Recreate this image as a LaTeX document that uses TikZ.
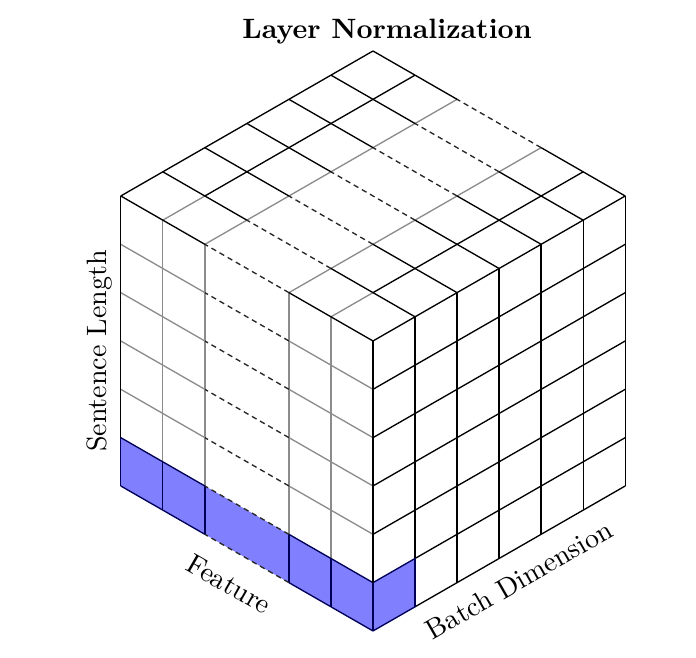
\documentclass[tikz,border=0pt]{standalone}
\usepackage{fontspec}
\usepackage{tikz}
\usetikzlibrary{positioning}
\usepackage{amsmath,amssymb}

\begin{document}
\begin{tikzpicture}[x={(-0.554cm,0.3185cm)}, y={(0cm,0.637cm)}, z={(0.554cm,0.3185cm)},
	every node/.style={font=\fontsize{10.5}{12.6}\selectfont}]
	\tikzstyle{edge_line}=[draw=black, line width=0.5pt]
	\tikzstyle{grey_line}=[draw=black!45, line width=0.5pt]
	\tikzstyle{blue_line}=[draw=blue!35!black, line width=0.5pt]
	\tikzstyle{dots_line}=[draw=black!85, line width=0.5pt, dash pattern=on 2pt off 1.5pt]
	\tikzstyle{blue_cell}=[fill=blue!50]
	
	\useasboundingbox (-4.916cm,-0.356cm) rectangle (4.257cm,8.316cm);
	
	% highlighted row
	\fill[blue_cell] (0,0,0) -- (6,0,0) -- (6,1,0) -- (0,1,0) -- cycle;
	\fill[blue_cell] (0,0,0) -- (0,0,1) -- (0,1,1) -- (0,1,0) -- cycle;
	
	% left face: feature x sentence length
	\draw[grey_line] (1,1,0) -- (1,6,0);
	\draw[grey_line] (2,1,0) -- (2,6,0);
	\draw[grey_line] (4,1,0) -- (4,6,0);
	\draw[grey_line] (5,1,0) -- (5,6,0);
	\draw[blue_line] (1,0,0) -- (1,1,0);
	\draw[blue_line] (2,0,0) -- (2,1,0);
	\draw[blue_line] (4,0,0) -- (4,1,0);
	\draw[blue_line] (5,0,0) -- (5,1,0);
	
	\draw[grey_line] (0,2,0) -- (2,2,0);  \draw[dots_line] (2,2,0) -- (4,2,0);  \draw[grey_line] (4,2,0) -- (6,2,0);
	\draw[grey_line] (0,3,0) -- (2,3,0);  \draw[dots_line] (2,3,0) -- (4,3,0);  \draw[grey_line] (4,3,0) -- (6,3,0);
	\draw[grey_line] (0,4,0) -- (2,4,0);  \draw[dots_line] (2,4,0) -- (4,4,0);  \draw[grey_line] (4,4,0) -- (6,4,0);
	\draw[grey_line] (0,5,0) -- (2,5,0);  \draw[dots_line] (2,5,0) -- (4,5,0);  \draw[grey_line] (4,5,0) -- (6,5,0);
	\draw[blue_line] (0,1,0) -- (2,1,0);  \draw[dots_line] (2,1,0) -- (4,1,0);  \draw[blue_line] (4,1,0) -- (6,1,0);
	\draw[blue_line] (0,0,0) -- (2,0,0);  \draw[dots_line] (2,0,0) -- (4,0,0);  \draw[blue_line] (4,0,0) -- (6,0,0);
	
	% right face: batch x sentence length
	\draw[edge_line] (0,0,1) -- (0,6,1);
	\draw[edge_line] (0,0,2) -- (0,6,2);
	\draw[edge_line] (0,0,3) -- (0,6,3);
	\draw[edge_line] (0,0,4) -- (0,6,4);
	\draw[edge_line] (0,0,5) -- (0,6,5);
	\draw[edge_line] (0,2,0) -- (0,2,6);
	\draw[edge_line] (0,3,0) -- (0,3,6);
	\draw[edge_line] (0,4,0) -- (0,4,6);
	\draw[edge_line] (0,5,0) -- (0,5,6);
	\draw[edge_line] (0,1,1) -- (0,1,6);
	\draw[edge_line] (0,0,1) -- (0,0,6);
	\draw[blue_line] (0,1,0) -- (0,1,1) -- (0,0,1) -- (0,0,0);
	\draw[blue_line] (0,0,1) -- (0,1,1);
	
	% top face
	\draw[grey_line] (1,6,0) -- (1,6,1);  \draw[edge_line] (1,6,1) -- (1,6,6);
	\draw[grey_line] (2,6,0) -- (2,6,6);
	\draw[grey_line] (4,6,0) -- (4,6,6);
	\draw[grey_line] (5,6,0) -- (5,6,1);  \draw[edge_line] (5,6,1) -- (5,6,6);
	\draw[edge_line] (0,6,0) -- (0,6,6);
	\draw[edge_line] (6,6,0) -- (6,6,6);
	
	\draw[edge_line] (0,6,0) -- (2,6,0);  \draw[dots_line] (2,6,0) -- (4,6,0);  \draw[edge_line] (4,6,0) -- (6,6,0);
	\draw[edge_line] (0,6,1) -- (2,6,1);  \draw[dots_line] (2,6,1) -- (4,6,1);  \draw[edge_line] (4,6,1) -- (6,6,1);
	\draw[edge_line] (0,6,2) -- (2,6,2);  \draw[dots_line] (2,6,2) -- (4,6,2);  \draw[edge_line] (4,6,2) -- (6,6,2);
	\draw[edge_line] (0,6,3) -- (2,6,3);  \draw[dots_line] (2,6,3) -- (4,6,3);  \draw[edge_line] (4,6,3) -- (6,6,3);
	\draw[edge_line] (0,6,4) -- (2,6,4);  \draw[dots_line] (2,6,4) -- (4,6,4);  \draw[edge_line] (4,6,4) -- (6,6,4);
	\draw[edge_line] (0,6,5) -- (2,6,5);  \draw[dots_line] (2,6,5) -- (4,6,5);  \draw[edge_line] (4,6,5) -- (6,6,5);
	\draw[edge_line] (0,6,6) -- (2,6,6);  \draw[dots_line] (2,6,6) -- (4,6,6);  \draw[edge_line] (4,6,6) -- (6,6,6);
	
	% outer edges
	\draw[edge_line] (6,1,0) -- (6,6,0);
	\draw[blue_line] (6,0,0) -- (6,1,0);
	\draw[edge_line] (0,1,0) -- (0,6,0);
	\draw[blue_line] (0,0,0) -- (0,1,0);
	\draw[edge_line] (0,0,6) -- (0,6,6);
	
	% labels
	\node (title) at (0.185cm,7.895cm) {\bfseries Layer Normalization};
	\node[rotate=90] (sent) at (-3.598cm,3.69cm) {Sentence Length};
	\node[rotate=-30] (feat) at (-1.898cm,0.619cm) {Feature};
	\node[rotate=30] (batch) at (1.924cm,0.672cm) {Batch Dimension};
\end{tikzpicture}
\end{document}
